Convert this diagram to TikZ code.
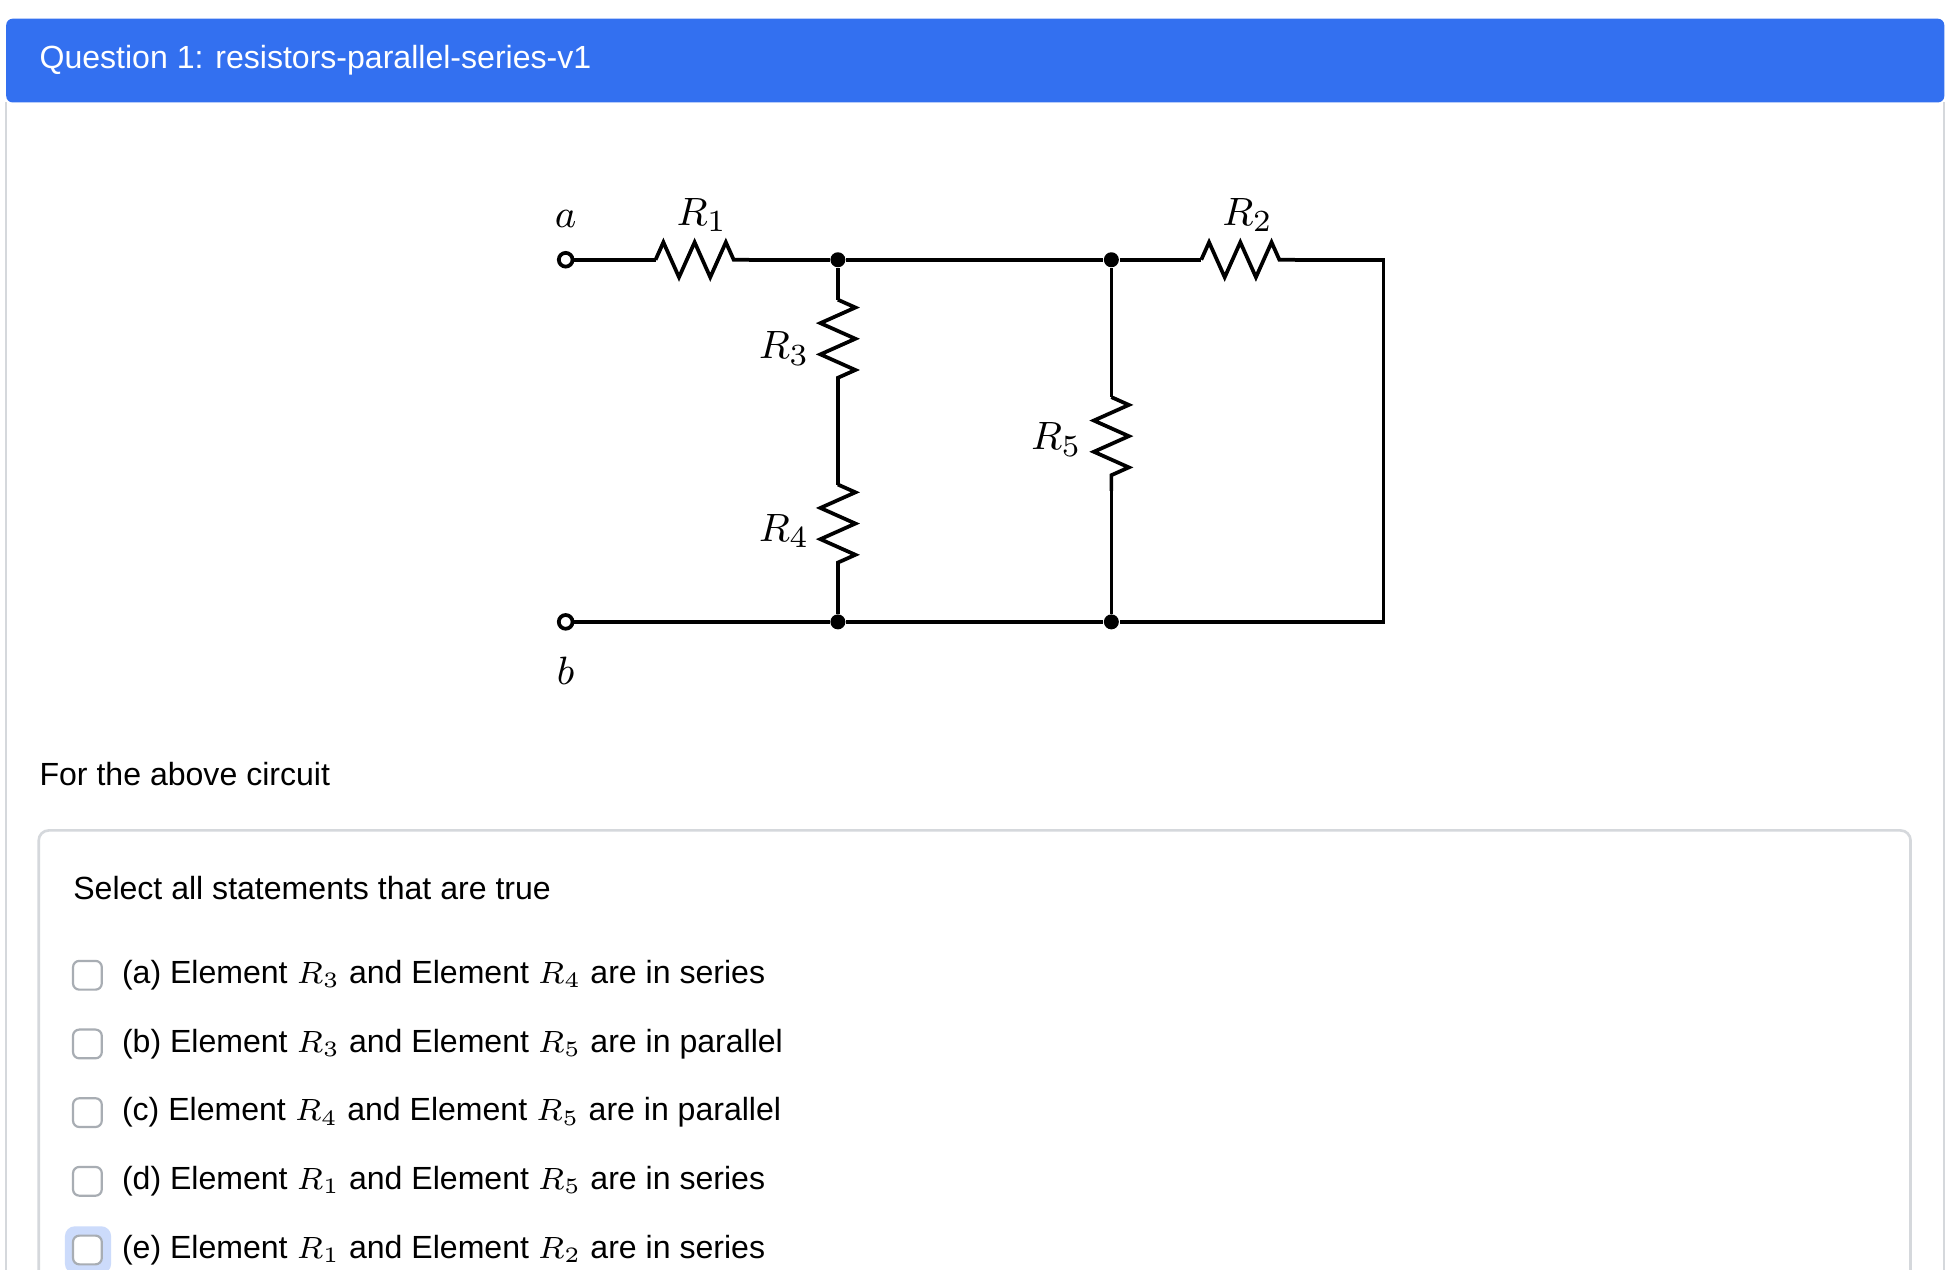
\documentclass[tikz,border=0pt]{standalone}
\usepackage{amsmath}
\usepackage{fontspec}
\setmainfont{Liberation Sans}
\usetikzlibrary{decorations.pathmorphing,positioning}
\definecolor{headblue}{HTML}{3370F0}
\definecolor{cardgray}{HTML}{D5D8DC}
\definecolor{boxgray}{HTML}{A8ADB3}
\tikzset{
  wire/.style={line width=0.85pt,black},
  resistor/.style={wire,decorate,decoration={zigzag,segment length=0.25cm,amplitude=0.14cm}},
  dot/.style={circle,fill=black,inner sep=0pt,minimum size=0.12cm},
  term/.style={circle,draw=black,fill=white,line width=0.85pt,inner sep=0pt,minimum size=0.11cm},
  lbl/.style={font=\fontsize{9.5}{11}\selectfont},
  txt/.style={anchor=west,inner sep=0pt,font=\fontsize{7.3}{9}\selectfont},
  chk/.style={draw=boxgray,rounded corners=0.05cm,line width=0.5pt,minimum size=0.23cm,inner sep=0pt}
}
\begin{document}
\begin{tikzpicture}[x=0.01cm,y=-0.01cm]
    \useasboundingbox[fill=white] (0,0) rectangle (1560,1017);
    % card and header
    \draw[cardgray,line width=0.5pt] (5,82) -- (5,1030) (1557,82) -- (1557,1030);
    \fill[headblue,rounded corners=0.05cm] (5,82) -- (5,15) -- (1557,15) -- (1557,82) -- cycle;
    \node[txt,text=white] (title) at (31,48) {Question 1: resistors-parallel-series-v1};
    % circuit
    \node[term] (a) at (453,208) {};
    \node[term] (b) at (453,498) {};
    \node[dot] (t1) at (671,208) {};
    \node[dot] (t2) at (890,208) {};
    \node[dot] (b1) at (671,498) {};
    \node[dot] (b2) at (890,498) {};
    \coordinate (tr) at (1108,208);
    \coordinate (br) at (1108,498);
    \coordinate (r1a) at (525,208); \coordinate (r1b) at (600,208);
    \coordinate (r2a) at (962,208); \coordinate (r2b) at (1037,208);
    \coordinate (r3a) at (671,240); \coordinate (r3b) at (671,315);
    \coordinate (r4a) at (671,388); \coordinate (r4b) at (671,463);
    \coordinate (r5a) at (890,318); \coordinate (r5b) at (890,393);
    \draw[wire] (a) -- (r1a) (r1b) -- (t1) -- (t2) -- (r2a) (r2b) -- (tr) -- (br) -- (b2) -- (b1) -- (b);
    \draw[wire] (t1) -- (r3a) (r3b) -- (r4a) (r4b) -- (b1);
    \draw[wire] (t2) -- (r5a) (r5b) -- (b2);
    \draw[resistor] (r1a) -- (r1b);
    \draw[resistor] (r2a) -- (r2b);
    \draw[resistor] (r3a) -- (r3b);
    \draw[resistor] (r4a) -- (r4b);
    \draw[resistor] (r5a) -- (r5b);
    \node[lbl] (la) at (453,175) {$a$};
    \node[lbl] (lb) at (453,537) {$b$};
    \node[lbl] (l1) at (562,172) {$R_1$};
    \node[lbl] (l2) at (999,172) {$R_2$};
    \node[lbl] (l3) at (628,279) {$R_3$};
    \node[lbl] (l4) at (628,425) {$R_4$};
    \node[lbl] (l5) at (846,352) {$R_5$};
    % question
    \node[txt] (q) at (31,620) {For the above circuit};
    \draw[cardgray,line width=0.6pt,rounded corners=0.08cm] (31,1030) -- (31,665) -- (1530,665) -- (1530,1030);
    \node[txt] (sel) at (58,711) {Select all statements that are true};
    \fill[headblue!25,rounded corners=0.08cm] (52,982) rectangle (89,1020);
    \foreach \y/\s in {781/{(a) Element $R_3$ and Element $R_4$ are in series},
                       836/{(b) Element $R_3$ and Element $R_5$ are in parallel},
                       891/{(c) Element $R_4$ and Element $R_5$ are in parallel},
                       946/{(d) Element $R_1$ and Element $R_5$ are in series},
                       1001/{(e) Element $R_1$ and Element $R_2$ are in series}}{
      \node[chk,fill=white] (c\y) at (70,\y) {};
      \node[txt] (s\y) at (97,\y) {\s};
    }
\end{tikzpicture}
\end{document}
